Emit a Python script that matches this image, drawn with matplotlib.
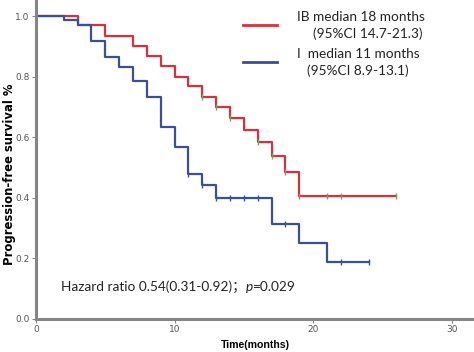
import numpy as np
import matplotlib
matplotlib.use("Agg")
import matplotlib.pyplot as plt

# Kaplan-Meier steps
ib_times = [0, 3, 5, 7, 8, 9, 10, 11, 12, 13, 14, 15, 16, 17, 18, 19, 26]
ib_surv = [1.0, 0.970, 0.935, 0.901, 0.868, 0.835, 0.800, 0.768, 0.734,
           0.699, 0.664, 0.624, 0.583, 0.539, 0.486, 0.406, 0.406]
ib_censor = [12, 13, 14, 16, 17, 18, 19, 21, 22, 26]

i_times = [0, 2, 3, 4, 5, 6, 7, 8, 9, 10, 11, 12, 13, 17, 19, 21, 24]
i_surv = [1.0, 0.987, 0.970, 0.917, 0.866, 0.833, 0.784, 0.734, 0.634,
          0.568, 0.480, 0.443, 0.400, 0.314, 0.252, 0.188, 0.188]
i_censor = [11, 12, 13, 14, 15, 16, 18, 22, 24]

x_ticks = [0, 10, 20, 30]
y_ticks = [0.0, 0.2, 0.4, 0.6, 0.8, 1.0]

legend_ib = ["IB median 18 months", "(95%CI 14.7-21.3)"]
legend_i = ["I  median 11 months", "(95%CI 8.9-13.1)"]
hr_parts = ["Hazard ratio 0.54(0.31-0.92)；", "p", "=0.029"]

RED = "#d8303c"
BLUE = "#3b4f98"
CENSOR_RED = "#7c9d5c"
GRAY = "#858585"
TXT_FONT = ["Lato", "Noto Sans CJK SC", "DejaVu Sans"]
TXT_SIZE = 9.8


def step_value(times, surv, t):
    idx = np.searchsorted(times, t, side="right") - 1
    return surv[idx]


def px(x, y):
    # pixel position (from top-left) -> figure fraction
    return x / 474, 1 - y / 352


fig = plt.figure(figsize=(4.74, 3.52), dpi=100)
ax = fig.add_axes([36 / 474, 33 / 352, 1 - 36 / 474, 1 - 33 / 352])

ax.step(ib_times, ib_surv, where="post", color=RED, lw=1.6)
ax.step(i_times, i_surv, where="post", color=BLUE, lw=1.6)

ax.plot(ib_censor, [step_value(ib_times, ib_surv, t) for t in ib_censor],
        ls="none", marker="|", ms=4, mew=1.0, color=CENSOR_RED)
ax.plot(i_censor, [step_value(i_times, i_surv, t) for t in i_censor],
        ls="none", marker="|", ms=4, mew=1.0, color=BLUE)

ax.set_xlim(0, 31.6)
ax.set_ylim(0, 1.053)
ax.set_xticks(x_ticks)
ax.set_yticks(y_ticks)
ax.set_xticklabels([str(t) for t in x_ticks])
ax.set_yticklabels([f"{v:.1f}" for v in y_ticks])
ax.tick_params(axis="both", labelsize=6.5, labelcolor="#555555", color=GRAY,
               length=3, width=0.8, pad=1.5)

for side in ["top", "right"]:
    ax.spines[side].set_visible(False)
for side in ["left", "bottom"]:
    ax.spines[side].set_color(GRAY)
    ax.spines[side].set_linewidth(2.2)

ax.set_xlabel("Time(months)", fontsize=7.6, fontweight="bold",
              family="Liberation Sans", labelpad=4)
fig.text(*px(10, 174), "Progression-free survival %", fontsize=8.4,
         fontweight="bold", family="DejaVu Sans", rotation=90,
         ha="center", va="center")

# legend drawn by hand, as in the figure
ft = fig.transFigure
for y_line, color, lines, x_text in [(25, RED, legend_ib, (297, 313)),
                                     (62, BLUE, legend_i, (297, 307))]:
    x0, y0 = px(243, y_line)
    x1, _ = px(277, y_line)
    fig.add_artist(plt.Line2D([x0, x1], [y0, y0], color=color, lw=2.0,
                              transform=ft))
    fig.text(*px(x_text[0], y_line - 8), lines[0], fontsize=TXT_SIZE,
             family=TXT_FONT, va="center", ha="left", color="#222222")
    fig.text(*px(x_text[1], y_line + 9), lines[1], fontsize=TXT_SIZE,
             family=TXT_FONT, va="center", ha="left", color="#222222")

# hazard ratio line, pieces placed one after the other (italic p)
renderer = fig.canvas.get_renderer()
x_cur, y_hr = px(61, 287)
for part, style in zip(hr_parts, ["normal", "italic", "normal"]):
    t = fig.text(x_cur, y_hr, part, fontsize=TXT_SIZE, family=TXT_FONT,
                 style=style, va="center", ha="left", color="#222222")
    bb = t.get_window_extent(renderer=renderer)
    x_cur += bb.width / fig.bbox.width

fig.savefig("out.png", dpi=100)
